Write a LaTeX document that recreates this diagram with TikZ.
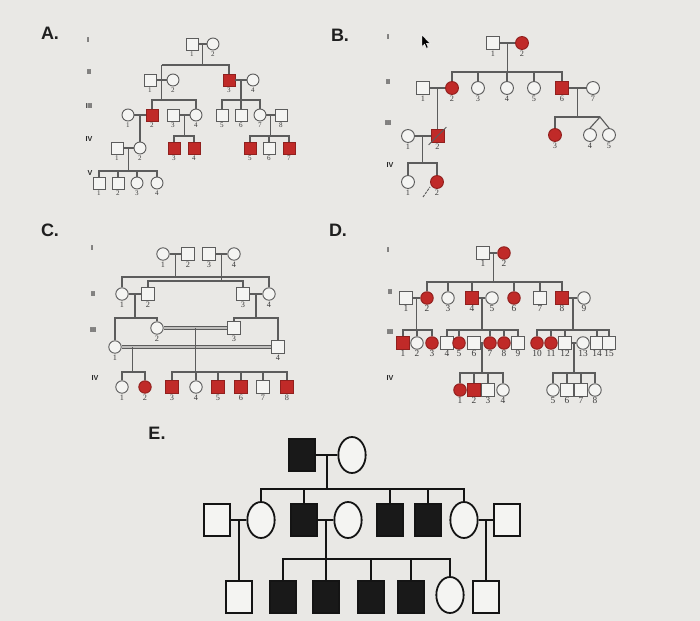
\documentclass[tikz,border=0pt]{standalone}
\usepackage{fontspec}
\setmainfont{Liberation Serif}
\setsansfont{Liberation Sans}
\usetikzlibrary{calc,shapes.geometric}
\definecolor{bgc}{RGB}{233,232,229}
\definecolor{lg}{RGB}{92,92,92}
\definecolor{pred}{RGB}{192,42,40}
\definecolor{symw}{RGB}{244,244,242}
\definecolor{numc}{RGB}{60,60,60}
\tikzset{
  ln/.style={draw=lg, line width=0.85pt},
  dbl/.style={draw=lg, line width=0.8pt, double=lg!30!bgc, double distance=0.9pt},
  sq/.style={rectangle, draw=lg, line width=0.7pt, fill=symw, inner sep=0pt, minimum size=#1},
  ci/.style={circle, draw=lg, line width=0.7pt, fill=symw, inner sep=0pt, minimum size=#1},
  aff/.style={fill=pred, draw=pred!75!black},
  numA/.style={font=\fontsize{5.3}{5.3}\selectfont, text=numc, inner sep=0.5pt},
  numB/.style={font=\fontsize{6.2}{6.2}\selectfont, text=numc, inner sep=0.5pt},
  numD/.style={font=\fontsize{7}{7}\selectfont, text=numc, inner sep=0.3pt},
  na/.style={label={[numA]below:#1}},
  nb/.style={label={[numB]below:#1}},
  nd/.style={label={[numD]below:#1}},
  sA/.style={sq=9pt}, cA/.style={ci=9pt},
  sB/.style={sq=9.7pt}, cB/.style={ci=9.7pt},
  sC/.style={sq=9.3pt}, cC/.style={ci=9.3pt},
  sD/.style={sq=9.2pt}, cD/.style={ci=9.4pt},
  gen/.style={font=\sffamily\bfseries\fontsize{5.4}{5.4}\selectfont, text=black!85},
  panel/.style={font=\sffamily\bfseries\fontsize{13.5}{13.5}\selectfont, text=black!88},
  eln/.style={draw=black!92, line width=1.35pt},
  esq/.style={rectangle, draw=black!92, line width=1.35pt, fill=symw, inner sep=0pt, minimum width=20pt, minimum height=23.5pt},
  eci/.style={ellipse, draw=black!92, line width=1.35pt, fill=symw, inner sep=0pt, minimum width=20.5pt, minimum height=27pt},
  eaff/.style={fill=black!90},
}
\begin{document}
\begin{tikzpicture}[x=0.75pt,y=-0.75pt]
\useasboundingbox (0,0) rectangle (700,621);
\fill[bgc] (0,0) rectangle (700,621);

%================ A =================
\node[panel] (lA) at (50,33) {A.};
\node[gen] (gA1) at (88,40) {I};
\node[gen] (gA2) at (89,72) {II};
\node[gen] (gA3) at (89,106) {III};
\node[gen] (gA4) at (89,139) {IV};
\node[gen] (gA5) at (90,173) {V};
\node[sA,na=1] (a11) at (192,44) {};
\node[cA,na=2] (a12) at (213,44) {};
\node[sA,na=1] (a21) at (150,80) {};
\node[cA,na=2] (a22) at (173,80) {};
\node[sA,aff,na=3] (a23) at (229,80) {};
\node[cA,na=4] (a24) at (253,80) {};
\node[cA,na=1] (a31) at (128,115) {};
\node[sA,aff,na=2] (a32) at (152,115) {};
\node[sA,na=3] (a33) at (173,115) {};
\node[cA,na=4] (a34) at (196,115) {};
\node[sA,na=5] (a35) at (222,115) {};
\node[sA,na=6] (a36) at (241,115) {};
\node[cA,na=7] (a37) at (260,115) {};
\node[sA,na=8] (a38) at (281,115) {};
\node[sA,na=1] (a41) at (117,148) {};
\node[cA,na=2] (a42) at (140,148) {};
\node[sA,aff,na=3] (a43) at (174,148) {};
\node[sA,aff,na=4] (a44) at (194,148) {};
\node[sA,aff,na=5] (a45) at (250,148) {};
\node[sA,na=6] (a46) at (269,148) {};
\node[sA,aff,na=7] (a47) at (289,148) {};
\node[sA,na=1] (a51) at (99,183) {};
\node[sA,na=2] (a52) at (118,183) {};
\node[cA,na=3] (a53) at (137,183) {};
\node[cA,na=4] (a54) at (157,183) {};
\coordinate (aY1) at (0,65);
\coordinate (aY2) at (0,100);
\coordinate (aY3) at (0,136);
\coordinate (aY4) at (0,171);
\draw[ln] (a11) -- (a12) coordinate[midway] (aM1);
\draw[ln] (aM1) -- (aM1 |- aY1);
\draw[ln] (a21) -- (a22) coordinate[midway] (aM2);
\draw[ln] (aM2 |- aY1) -| (a23.north);
\draw[ln] (aM2 |- aY1) -- (aM2 |- aY2);
\draw[ln] (a32.north) |- (a34.north |- aY2) -- (a34.north);
\draw[ln] (a23) -- (a24) coordinate[midway] (aM3);
\draw[ln] (aM3) -- (aM3 |- aY2);
\draw[ln] (a35.north) |- (a37.north |- aY2) -- (a37.north);
\draw[ln] (a36.north) -- (a36.north |- aY2);
\draw[ln] (a31) -- (a32) coordinate[midway] (aM4);
\draw[ln] (aM4) -- (aM4 |- a42.north);
\draw[ln] (a33) -- (a34) coordinate[midway] (aM5);
\draw[ln] (aM5) -- (aM5 |- aY3);
\draw[ln] (a43.north) |- (a44.north |- aY3) -- (a44.north);
\draw[ln] (a37) -- (a38) coordinate[midway] (aM6);
\draw[ln] (aM6) -- (aM6 |- aY3);
\draw[ln] (a45.north) |- (a47.north |- aY3) -- (a47.north);
\draw[ln] (a46.north) -- (a46.north |- aY3);
\draw[ln] (a41) -- (a42) coordinate[midway] (aM7);
\draw[ln] (aM7) -- (aM7 |- aY4);
\draw[ln] (a51.north) |- (a54.north |- aY4) -- (a54.north);
\draw[ln] (a52.north) -- (a52.north |- aY4);
\draw[ln] (a53.north) -- (a53.north |- aY4);

%================ B =================
\node[panel] (lB) at (340,35) {B.};
\node[gen] (gB1) at (388,37) {I};
\node[gen] (gB2) at (388,82) {II};
\node[gen] (gB3) at (388,123) {III};
\node[gen] (gB4) at (390,165) {IV};
\fill[black, draw=white, line width=0.3pt] (422,35) -- (422,46.5) -- (424.6,44) -- (426.4,48.3) -- (428.2,47.5) -- (426.4,43.3) -- (429.8,43.3) -- cycle;
\node[sB,nb=1] (b11) at (493,43) {};
\node[cB,aff,nb=2] (b12) at (522,43) {};
\node[sB,nb=1] (b21) at (423,88) {};
\node[cB,aff,nb=2] (b22) at (452,88) {};
\node[cB,nb=3] (b23) at (478,88) {};
\node[cB,nb=4] (b24) at (507,88) {};
\node[cB,nb=5] (b25) at (534,88) {};
\node[sB,aff,nb=6] (b26) at (562,88) {};
\node[cB,nb=7] (b27) at (593,88) {};
\node[cB,nb=1] (b31) at (408,136) {};
\node[sB,aff,nb=2] (b32) at (437.5,136) {};
\node[cB,aff,nb=3] (b33) at (555,135) {};
\node[cB,nb=4] (b34) at (590,135) {};
\node[cB,nb=5] (b35) at (609,135) {};
\node[cB,nb=1] (b41) at (408,182) {};
\node[cB,aff,nb=2] (b42) at (437,182) {};
\coordinate (bY1) at (0,72);
\coordinate (bY2) at (0,117);
\coordinate (bY3) at (0,163);
\coordinate (bT) at (600,117);
\draw[ln] (b11) -- (b12) coordinate[midway] (bM1);
\draw[ln] (bM1) -- (bM1 |- bY1);
\draw[ln] (b22.north) |- (b26.north |- bY1) -- (b26.north);
\foreach \k in {b23,b24,b25} \draw[ln] (\k.north) -- (\k.north |- bY1);
\draw[ln] (b21) -- (b22) coordinate[midway] (bM2);
\draw[ln] (bM2) -- (bM2 |- b32.north);
\draw[lg, line width=0.6pt] ($(b32.south west)+(-2,2)$) -- ($(b32.north east)+(2,-2)$);
\draw[ln] (b26) -- (b27) coordinate[midway] (bM3);
\draw[ln] (bM3) -- (bM3 |- bY2);
\draw[ln] (b33.north) |- (bT);
\draw[ln] (b34.north) -- (bT) -- (b35.north);
\draw[ln] (b31) -- (b32) coordinate[midway] (bM4);
\draw[ln] (bM4) -- (bM4 |- bY3);
\draw[ln] (b41.north) |- (b42.north |- bY3) -- (b42.north);
\coordinate (bPa) at (423,197);
\draw[lg, line width=0.7pt, dash pattern=on 2pt off 0.8pt] (bPa) -- ($(b42.south west)+(-2,0)$);

%================ C =================
\node[panel] (lC) at (50,230) {C.};
\node[gen] (gC1) at (92,248) {I};
\node[gen] (gC2) at (93,294) {II};
\node[gen] (gC3) at (93,330) {III};
\node[gen] (gC4) at (95,378) {IV};
\node[cC,nb=1] (c11) at (163,254) {};
\node[sC,nb=2] (c12) at (188,254) {};
\node[sC,nb=3] (c13) at (209,254) {};
\node[cC,nb=4] (c14) at (234,254) {};
\node[cC,nb=1] (c21) at (122,294) {};
\node[sC,nb=2] (c22) at (148,294) {};
\node[sC,nb=3] (c23) at (243,294) {};
\node[cC,nb=4] (c24) at (269,294) {};
\node[cC,nb=1] (c31) at (115,347) {};
\node[cC,nb=2] (c32) at (157,328) {};
\node[sC,nb=3] (c33) at (234,328) {};
\node[sC,nb=4] (c34) at (278,347) {};
\node[cC,nb=1] (c41) at (122,387) {};
\node[cC,aff,nb=2] (c42) at (145,387) {};
\node[sC,aff,nb=3] (c43) at (172,387) {};
\node[cC,nb=4] (c44) at (196,387) {};
\node[sC,aff,nb=5] (c45) at (218,387) {};
\node[sC,aff,nb=6] (c46) at (241,387) {};
\node[sC,nb=7] (c47) at (263,387) {};
\node[sC,aff,nb=8] (c48) at (287,387) {};
\coordinate (cY1) at (0,277);
\coordinate (cY2) at (0,281);
\coordinate (cY3) at (0,318);
\coordinate (cY4) at (0,372);
\draw[ln] (c11) -- (c12) coordinate[midway] (cM1);
\draw[ln] (cM1) -- (cM1 |- cY1);
\draw[ln] (c21.north) |- (c24.north |- cY1) -- (c24.north);
\draw[ln] (c13) -- (c14) coordinate[midway] (cM2);
\draw[ln] (cM2) -- (cM2 |- cY2);
\draw[ln] (c22.north) |- (c23.north |- cY2) -- (c23.north);
\draw[ln] (c21) -- (c22) coordinate[midway] (cM3);
\draw[ln] (cM3) -- (cM3 |- cY3);
\draw[ln] (c31.north) |- (c32.north |- cY3) -- (c32.north);
\draw[ln] (c23) -- (c24) coordinate[midway] (cM4);
\draw[ln] (cM4) -- (cM4 |- cY3);
\draw[ln] (c33.north) |- (c34.north |- cY3) -- (c34.north);
\draw[dbl] (c32) -- (c33) coordinate[midway] (cM5);
\draw[dbl] (c31) -- (c34) coordinate[pos=0.075] (cM6);
\draw[ln] (cM5) -- (cM5 |- cY4);
\draw[ln] (cM6) -- (cM6 |- cY4);
\draw[ln] (c41.north) |- (c42.north |- cY4) -- (c42.north);
\draw[ln] (c43.north) |- (c48.north |- cY4) -- (c48.north);
\foreach \k in {c44,c45,c46,c47} \draw[ln] (\k.north) -- (\k.north |- cY4);

%================ D =================
\node[panel] (lD) at (338,230) {D.};
\node[gen] (gD1) at (388,250) {I};
\node[gen] (gD2) at (390,292) {II};
\node[gen] (gD3) at (390,332) {III};
\node[gen] (gD4) at (390,378) {IV};
\node[sD,nd=1] (d11) at (483,253) {};
\node[cD,aff,nd=2] (d12) at (504,253) {};
\node[sD,nd=1] (d21) at (406,298) {};
\node[cD,aff,nd=2] (d22) at (427,298) {};
\node[cD,nd=3] (d23) at (448,298) {};
\node[sD,aff,nd=4] (d24) at (472,298) {};
\node[cD,nd=5] (d25) at (492,298) {};
\node[cD,aff,nd=6] (d26) at (514,298) {};
\node[sD,nd=7] (d27) at (540,298) {};
\node[sD,aff,nd=8] (d28) at (562,298) {};
\node[cD,nd=9] (d29) at (584,298) {};
\node[sD,aff,nd=1] (d31) at (403,343) {};
\node[cD,nd=2] (d32) at (417,343) {};
\node[cD,aff,nd=3] (d33) at (432,343) {};
\node[sD,nd=4] (d34) at (447,343) {};
\node[cD,aff,nd=5] (d35) at (459,343) {};
\node[sD,nd=6] (d36) at (474,343) {};
\node[cD,aff,nd=7] (d37) at (490,343) {};
\node[cD,aff,nd=8] (d38) at (504,343) {};
\node[sD,nd=9] (d39) at (518,343) {};
\node[cD,aff,nd=10] (d310) at (537,343) {};
\node[cD,aff,nd=11] (d311) at (551,343) {};
\node[sD,nd=12] (d312) at (565,343) {};
\node[cD,nd=13] (d313) at (583,343) {};
\node[sD,nd=14] (d314) at (597,343) {};
\node[sD,nd=15] (d315) at (609,343) {};
\node[cD,aff,nd=1] (d41) at (460,390) {};
\node[sD,aff,nd=2] (d42) at (474,390) {};
\node[sD,nd=3] (d43) at (488,390) {};
\node[cD,nd=4] (d44) at (503,390) {};
\node[cD,nd=5] (d45) at (553,390) {};
\node[sD,nd=6] (d46) at (567,390) {};
\node[sD,nd=7] (d47) at (581,390) {};
\node[cD,nd=8] (d48) at (595,390) {};
\coordinate (dY1) at (0,282);
\coordinate (dY2) at (0,330);
\coordinate (dY3) at (0,373);
\draw[ln] (d11) -- (d12) coordinate[midway] (dM1);
\draw[ln] (dM1) -- (dM1 |- dY1);
\draw[ln] (d22.north) |- (d28.north |- dY1) -- (d28.north);
\foreach \k in {d23,d24,d26,d27} \draw[ln] (\k.north) -- (\k.north |- dY1);
\draw[ln] (d21) -- (d22) coordinate[midway] (dM2);
\draw[ln] (dM2) -- (dM2 |- dY2);
\draw[ln] (d31.north) |- (d33.north |- dY2) -- (d33.north);
\draw[ln] (d32.north) -- (d32.north |- dY2);
\draw[ln] (d24) -- (d25) coordinate[midway] (dM3);
\draw[ln] (dM3) -- (dM3 |- dY2);
\draw[ln] (d34.north) |- (d39.north |- dY2) -- (d39.north);
\foreach \k in {d35,d37,d38} \draw[ln] (\k.north) -- (\k.north |- dY2);
\draw[ln] (d28) -- (d29) coordinate[midway] (dM4);
\draw[ln] (dM4) -- (dM4 |- dY2);
\draw[ln] (d310.north) |- (d315.north |- dY2) -- (d315.north);
\foreach \k in {d311,d312,d314} \draw[ln] (\k.north) -- (\k.north |- dY2);
\draw[ln] (d36) -- (d37) coordinate[midway] (dM5);
\draw[ln] (dM5) -- (dM5 |- dY3);
\draw[ln] (d41.north) |- (d44.north |- dY3) -- (d44.north);
\foreach \k in {d42,d43} \draw[ln] (\k.north) -- (\k.north |- dY3);
\draw[ln] (d312) -- (d313) coordinate[midway] (dM6);
\draw[ln] (dM6) -- (dM6 |- dY3);
\draw[ln] (d45.north) |- (d48.north |- dY3) -- (d48.north);
\foreach \k in {d46,d47} \draw[ln] (\k.north) -- (\k.north |- dY3);

%================ E =================
\node[panel] (lE) at (157,433) {E.};
\node[esq,eaff] (e11) at (302,455) {};
\node[eci] (e12) at (352,455) {};
\node[esq] (e21) at (217,520) {};
\node[eci] (e22) at (261,520) {};
\node[esq,eaff] (e23) at (304,520) {};
\node[eci] (e24) at (348,520) {};
\node[esq,eaff] (e25) at (390,520) {};
\node[esq,eaff] (e26) at (428,520) {};
\node[eci] (e27) at (464,520) {};
\node[esq] (e28) at (507,520) {};
\node[esq] (e31) at (239,597) {};
\node[esq,eaff] (e32) at (283,597) {};
\node[esq,eaff] (e33) at (326,597) {};
\node[esq,eaff] (e34) at (371,597) {};
\node[esq,eaff] (e35) at (411,597) {};
\node[eci] (e36) at (450,595) {};
\node[esq] (e37) at (486,597) {};
\coordinate (eY1) at (0,489);
\coordinate (eY2) at (0,559);
\draw[eln] (e11) -- (e12) coordinate[midway] (eM1);
\draw[eln] (eM1) -- (eM1 |- eY1);
\draw[eln] (e22.north) |- (e27.north |- eY1) -- (e27.north);
\foreach \k in {e23,e25,e26} \draw[eln] (\k.north) -- (\k.north |- eY1);
\draw[eln] (e21) -- (e22) coordinate[midway] (eM2);
\draw[eln] (eM2) -- (eM2 |- e31.north);
\draw[eln] (e23) -- (e24) coordinate[midway] (eM3);
\draw[eln] (eM3) -- (eM3 |- eY2);
\draw[eln] (e32.north) |- (e36.north |- eY2) -- (e36.north);
\foreach \k in {e33,e34,e35} \draw[eln] (\k.north) -- (\k.north |- eY2);
\draw[eln] (e27) -- (e28) coordinate[midway] (eM4);
\draw[eln] (eM4) -- (eM4 |- e37.north);
\end{tikzpicture}
\end{document}
